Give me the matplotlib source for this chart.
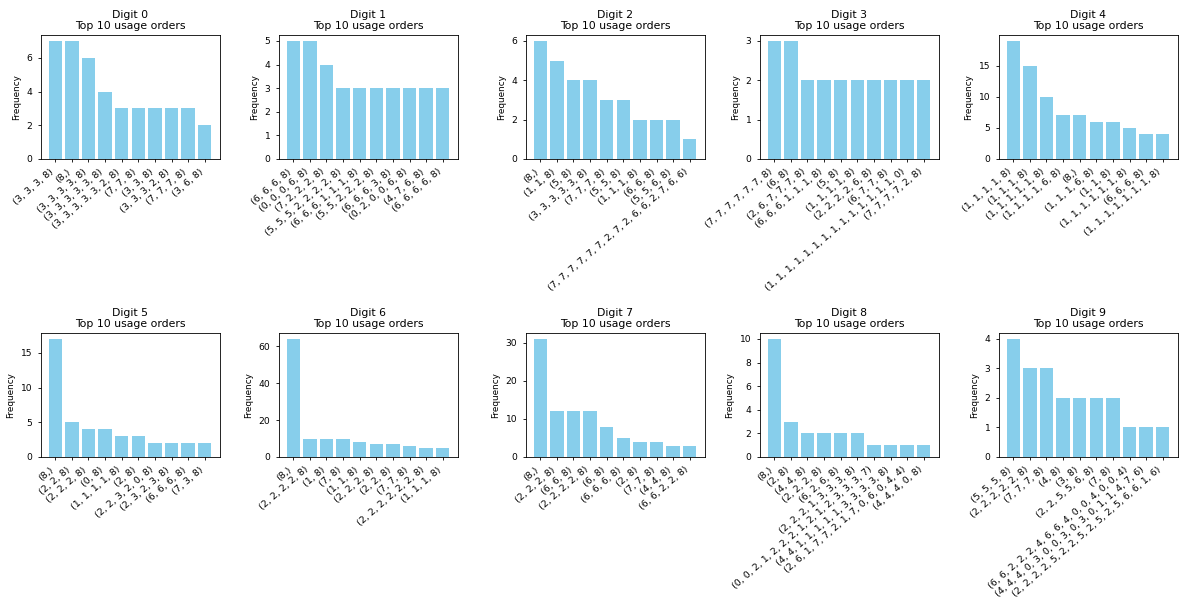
import matplotlib.pyplot as plt
from matplotlib.ticker import MaxNLocator
import numpy as np

# top 10 usage orders per digit (label, frequency)
labels_0 = ['(3, 3, 3, 8)', '(8,)', '(3, 3, 3, 3, 8)', '(3, 3, 3, 3, 3, 8)', '(3, 3, 3, 3, 3, 2, 8)',
            '(7, 7, 8)', '(3, 3, 8)', '(3, 3, 3, 2, 8)', '(7, 7, 7, 8)', '(3, 6, 8)']
freq_0 = [7, 7, 6, 4, 3, 3, 3, 3, 3, 2]

labels_1 = ['(6, 6, 6, 8)', '(0, 0, 0, 6, 8)', '(7, 2, 2, 2, 8)', '(5, 5, 5, 2, 2, 2, 2, 8)', '(6, 6, 6, 1, 1, 1, 8)',
            '(5, 5, 2, 2, 2, 8)', '(6, 6, 6, 3, 8)', '(0, 2, 0, 0, 6, 8)', '(4, 7, 6, 8)', '(6, 6, 6, 6, 8)']
freq_1 = [5, 5, 4, 3, 3, 3, 3, 3, 3, 3]

labels_2 = ['(8,)', '(1, 1, 8)', '(5, 8)', '(3, 3, 3, 3, 3, 8)', '(7, 7, 7, 8)', '(5, 5, 8)', '(1, 1, 1, 8)',
            '(6, 6, 8)', '(5, 5, 6, 8)', '(7, 7, 7, 7, 7, 7, 2, 7, 2, 6, 6, 2, 7, 6, 6)']
freq_2 = [6, 5, 4, 4, 3, 3, 2, 2, 2, 1]

labels_3 = ['(7, 7, 7, 7, 7, 7, 8)', '(6, 8)', '(2, 6, 7, 7, 7, 8)', '(6, 6, 6, 1, 1, 1, 8)', '(5, 8)',
            '(1, 1, 1, 1, 8)', '(2, 2, 2, 2, 6, 8)', '(6, 7, 7, 8)',
            '(1, 1, 1, 1, 1, 1, 1, 1, 1, 1, 1, 1, 1, 1, 0)', '(7, 7, 7, 7, 2, 8)']
freq_3 = [3, 3, 2, 2, 2, 2, 2, 2, 2, 2]

labels_4 = ['(1, 1, 1, 1, 8)', '(1, 1, 1, 8)', '(1, 1, 1, 1, 1, 8)', '(1, 1, 1, 1, 6, 8)', '(8,)',
            '(1, 1, 1, 6, 8)', '(1, 1, 8)', '(1, 1, 1, 1, 1, 1, 8)', '(6, 6, 6, 8)', '(1, 1, 1, 1, 1, 1, 1, 8)']
freq_4 = [19, 15, 10, 7, 7, 6, 6, 5, 4, 4]

labels_5 = ['(8,)', '(2, 2, 8)', '(2, 2, 2, 8)', '(0, 8)', '(1, 1, 1, 1, 8)', '(2, 8)',
            '(2, 2, 3, 2, 0, 8)', '(2, 3, 2, 3, 8)', '(6, 6, 6, 8)', '(7, 3, 8)']
freq_5 = [17, 5, 4, 4, 3, 3, 2, 2, 2, 2]

labels_6 = ['(8,)', '(2, 2, 2, 2, 8)', '(1, 8)', '(7, 8)', '(1, 1, 8)', '(2, 2, 2, 8)', '(2, 2, 8)',
            '(7, 7, 8)', '(2, 2, 2, 2, 2, 2, 8)', '(1, 1, 1, 8)']
freq_6 = [64, 10, 10, 10, 8, 7, 7, 6, 5, 5]

labels_7 = ['(8,)', '(2, 2, 2, 8)', '(6, 6, 8)', '(2, 2, 2, 2, 8)', '(6, 8)', '(6, 6, 6, 8)', '(2, 8)',
            '(7, 7, 8)', '(4, 4, 8)', '(6, 6, 2, 2, 8)']
freq_7 = [31, 12, 12, 12, 8, 5, 4, 4, 3, 3]

labels_8 = ['(8,)', '(2, 8)', '(4, 4, 8)', '(2, 2, 2, 8)', '(6, 2, 6, 8)', '(2, 2, 2, 1, 3, 3, 3, 8)',
            '(0, 0, 2, 1, 2, 2, 2, 1, 2, 1, 2, 3, 3, 3, 7)', '(4, 4, 1, 1, 1, 1, 1, 3, 3, 3, 3, 8)',
            '(2, 6, 1, 7, 7, 2, 1, 7, 0, 6, 0, 4, 4)', '(4, 4, 4, 0, 8)']
freq_8 = [10, 3, 2, 2, 2, 2, 1, 1, 1, 1]

labels_9 = ['(5, 5, 5, 8)', '(2, 2, 2, 2, 2, 8)', '(7, 7, 7, 8)', '(4, 8)', '(3, 8)', '(2, 2, 5, 5, 6, 8)',
            '(7, 8)', '(6, 6, 2, 2, 2, 4, 6, 6, 4, 0, 0, 4, 0, 0, 4)',
            '(4, 4, 4, 0, 3, 0, 0, 3, 0, 3, 0, 1, 1, 4, 7, 6)',
            '(2, 2, 2, 2, 5, 2, 2, 5, 2, 5, 2, 5, 6, 6, 1, 6)']
freq_9 = [4, 3, 3, 2, 2, 2, 2, 1, 1, 1]

all_labels = [labels_0, labels_1, labels_2, labels_3, labels_4,
              labels_5, labels_6, labels_7, labels_8, labels_9]
all_freqs = [freq_0, freq_1, freq_2, freq_3, freq_4,
             freq_5, freq_6, freq_7, freq_8, freq_9]

plt.rcParams['axes.linewidth'] = 0.6
plt.rcParams['xtick.major.width'] = 0.6
plt.rcParams['ytick.major.width'] = 0.6
plt.rcParams['xtick.major.size'] = 2.3
plt.rcParams['ytick.major.size'] = 2.3

W, H = 1200, 600
col_centers = [130, 368, 615, 849, 1088]   # pixel centres of the columns
row_tops = [35, 333]
ax_w, ax_h = 179, 124

fig = plt.figure(figsize=(12, 6), dpi=100)

for d in range(10):
    r, c = divmod(d, 5)
    left = (col_centers[c] - ax_w / 2) / W
    bottom = 1 - (row_tops[r] + ax_h) / H
    ax = fig.add_axes([left, bottom, ax_w / W, ax_h / H])
    x = np.arange(len(all_labels[d]))
    ax.bar(x, all_freqs[d], color='skyblue')
    ax.set_xticks(x)
    ax.set_xticklabels(all_labels[d], rotation=41, ha='right', fontsize=6.8)
    ax.tick_params(axis='y', labelsize=6.6)
    ax.yaxis.set_major_locator(MaxNLocator(nbins=6, steps=[1, 2, 2.5, 5, 10], integer=True))
    ax.set_title(f'Digit {d}\nTop 10 usage orders', fontsize=7.8, pad=4)
    ax.set_ylabel('Frequency', fontsize=6.4)

plt.savefig('out.png')
